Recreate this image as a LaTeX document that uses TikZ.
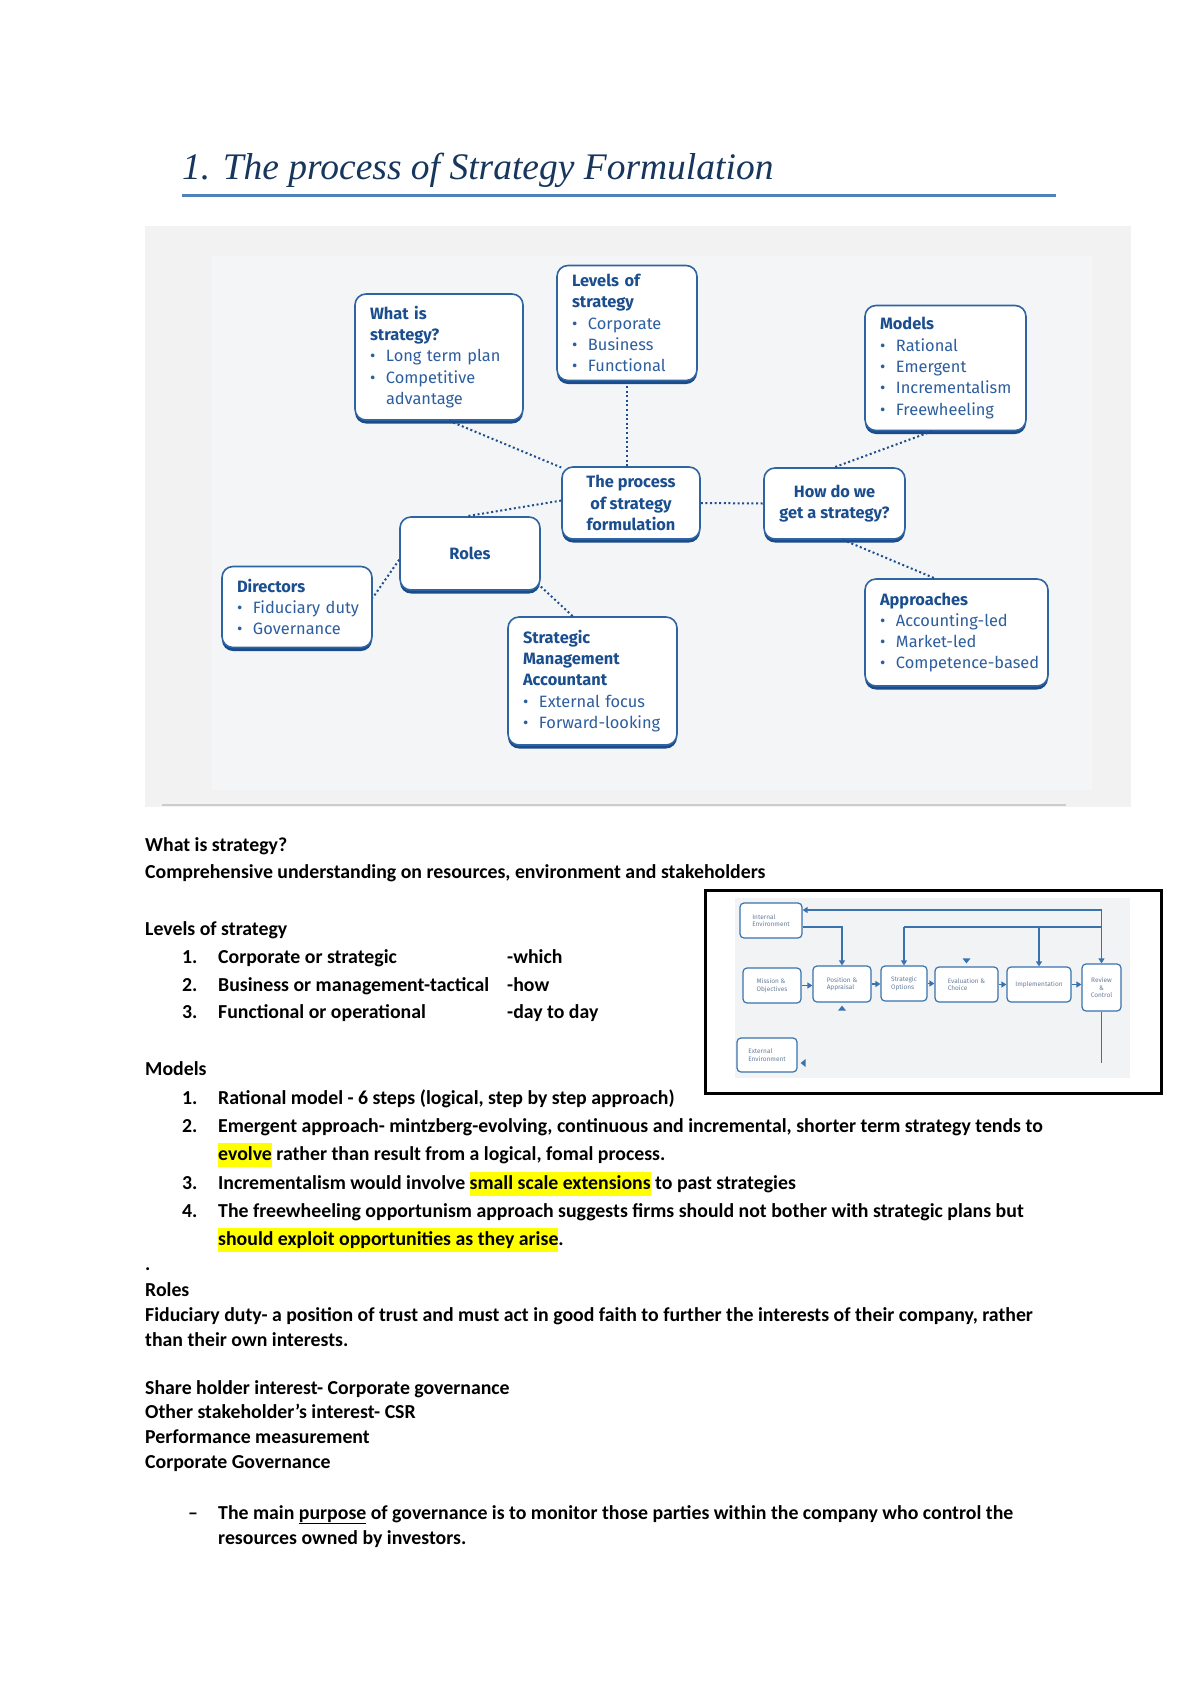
\documentclass[tikz,border=0pt]{standalone}
\usepackage{fontspec}
\setmainfont{Carlito}
\newfontfamily\diagfont{Fira Sans}
\newfontfamily\titlefont{Liberation Serif}
\usetikzlibrary{shadows,calc,arrows.meta}
\definecolor{titlecol}{HTML}{17365D}
\definecolor{rulecol}{HTML}{4F81BD}
\definecolor{panelout}{HTML}{F2F2F2}
\definecolor{panelin}{HTML}{F4F5F7}
\definecolor{boxline}{HTML}{2F64A3}
\definecolor{boxshadow}{HTML}{1A4C8B}
\definecolor{headcol}{HTML}{1B4E8E}
\definecolor{itemcol}{HTML}{2D5E9E}
\definecolor{dotcol}{HTML}{1F4E8C}
\definecolor{insbg}{HTML}{F2F3F5}
\definecolor{insline}{HTML}{3A72AE}
\definecolor{instext}{HTML}{6A7F9C}
\definecolor{hl}{HTML}{FFFF00}
\setlength{\fboxsep}{0pt}
\newcommand{\hd}[1]{\mbox{\bfseries\color{headcol}#1}}
\newcommand{\itm}[1]{\mbox{\makebox[16pt][l]{\textbullet}#1}}
\newcommand{\hang}[1]{\hspace*{16pt}\mbox{#1}}
\newcommand{\hlt}[1]{\colorbox{hl}{\strut #1}}
\begin{document}
\begin{tikzpicture}[x=1pt,y=-1pt,
  mbox/.style={draw=boxline, line width=1.6pt, fill=white, rounded corners=11pt,
    general shadow={fill=boxshadow, shadow yshift=-3.5pt},
    inner xsep=15pt, inner ysep=0pt, align=left, text=itemcol,
    font=\diagfont\fontsize{16.4}{21.3}\selectfont},
  cbox/.style={mbox, align=center, text=headcol,
    font=\diagfont\bfseries\fontsize{16.4}{21.3}\selectfont},
  dotln/.style={draw=dotcol, line width=2pt, dash pattern=on 2pt off 2.6pt},
  ibox/.style={draw=insline, line width=1.2pt, fill=white, rounded corners=4pt,
    inner sep=2pt, align=left, text=instext, font=\diagfont\fontsize{6.5}{7.5}\selectfont},
  iarr/.style={draw=insline, line width=1.3pt, -{Triangle[length=5pt,width=6pt]}},
  iln/.style={draw=insline, line width=1.3pt},
  body/.style={anchor=base west, inner sep=0pt, font=\bfseries\fontsize{19.8}{24}\selectfont, text=black}
]
\useasboundingbox (0,0) rectangle (1200,1698);
\fill[white] (0,0) rectangle (1200,1698);

% title
\node[anchor=base west, inner sep=0pt, text=titlecol,
  font=\titlefont\itshape\fontsize{37.5}{44}\selectfont] (title) at (182,179) {1. The process of Strategy Formulation};
\draw[rulecol, line width=3pt] (182,195) -- (1056,195);

% panel
\fill[panelout] (145,226) rectangle (1131,807);
\fill[panelin] (212,256) rectangle (1092,790);
\draw[gray!40, line width=2.5pt] (162,805) -- (1066,805);

% boxes
\node[mbox, text width=138pt, minimum height=126pt] (what) at (439,357)
  {\hd{What is}\\\hd{strategy?}\\\itm{Long term plan}\\\itm{Competitive}\\\hang{advantage}};
\node[mbox, text width=110pt, minimum height=115pt] (levels) at (627,323)
  {\hd{Levels of}\\\hd{strategy}\\\itm{Corporate}\\\itm{Business}\\\itm{Functional}};
\node[mbox, text width=131pt, minimum height=125pt] (models) at (945.5,368)
  {\hd{Models}\\\itm{Rational}\\\itm{Emergent}\\\itm{Incrementalism}\\\itm{Freewheeling}};
\node[cbox, minimum width=138pt, minimum height=72pt] (process) at (631,503)
  {The process\\of strategy\\formulation};
\node[cbox, minimum width=140pt, minimum height=73pt] (roles) at (470,553.5) {Roles};
\node[mbox, text width=120pt, minimum height=81pt] (directors) at (297,607)
  {\hd{Directors}\\\itm{Fiduciary duty}\\\itm{Governance}};
\node[mbox, text width=139pt, minimum height=128pt] (sma) at (592.5,681)
  {\hd{Strategic}\\\hd{Management}\\\hd{Accountant}\\\itm{External focus}\\\itm{Forward-looking}};
\node[cbox, minimum width=141pt, minimum height=71pt] (how) at (834.5,503.5)
  {How do we\\get a strategy?};
\node[mbox, text width=153pt, minimum height=107pt] (approaches) at (956.5,632.5)
  {\hd{Approaches}\\\itm{Accounting-led}\\\itm{Market-led}\\\itm{Competence-based}};

% connectors
\draw[dotln] (what.-81) -- (process.153);
\draw[dotln] (levels.south) -- (levels.south |- process.north);
\draw[dotln] (process.east) -- (how.west);
\draw[dotln] (models.-102) -- (how.north);
\draw[dotln] (how.-77) -- (approaches.112);
\draw[dotln] (process.178) -- (roles.95);
\draw[dotln] (roles.185) -- (directors.7);
\draw[dotln] (roles.-25) -- (sma.107);

% body text
\node[body] (b1) at (145,851) {What is strategy?};
\node[body] (b2) at (145,878) {Comprehensive understanding on resources, environment and stakeholders};
\node[body] (b3) at (145,935) {Levels of strategy};
\node[body] (n1) at (182,963) {1.};
\node[body] (l1) at (218,963) {Corporate or strategic};
\node[body] (d1) at (507,963) {-which};
\node[body] (n2) at (182,991) {2.};
\node[body] (l2) at (218,991) {Business or management-tactical};
\node[body] (d2) at (507,991) {-how};
\node[body] (n3) at (182,1018) {3.};
\node[body] (l3) at (218,1018) {Functional or operational};
\node[body] (d3) at (507,1018) {-day to day};
\node[body] (b4) at (145,1075) {Models};
\node[body] (m1n) at (182,1104) {1.};
\node[body] (m1) at (218,1104) {Rational model - 6 steps (logical, step by step approach)};
\node[body] (m2n) at (182,1132) {2.};
\node[body] (m2) at (218,1132) {Emergent approach- mintzberg-evolving, continuous and incremental, shorter term strategy tends to};
\node[body] (m2b) at (218,1160) {\hlt{evolve} rather than result from a logical, fomal process.};
\node[body] (m3n) at (182,1189) {3.};
\node[body] (m3) at (218,1189) {Incrementalism would involve \hlt{small scale extensions} to past strategies};
\node[body] (m4n) at (182,1217) {4.};
\node[body] (m4) at (218,1217) {The freewheeling opportunism approach suggests firms should not bother with strategic plans but};
\node[body] (m4b) at (218,1245) {\hlt{should exploit opportunities as they arise}.};
\node[body] (dot) at (145,1270) {.};
\node[body] (r0) at (145,1296) {Roles};
\node[body] (r1) at (145,1321) {Fiduciary duty- a position of trust and must act in good faith to further the interests of their company, rather};
\node[body] (r2) at (145,1346) {than their own interests.};
\node[body] (s1) at (145,1394) {Share holder interest- Corporate governance};
\node[body] (s2) at (145,1418) {Other stakeholder’s interest- CSR};
\node[body] (s3) at (145,1443) {Performance measurement};
\node[body] (s4) at (145,1468) {Corporate Governance};
\node[body] (g0) at (188,1519) {–};
\node[body] (g1) at (218,1519) {The main \underline{purpose} of governance is to monitor those parties within the company who control the};
\node[body] (g2) at (218,1544) {resources owned by investors.};

% inset diagram
\draw[black, line width=3pt, fill=white] (705,890) rectangle (1161,1093);
\fill[insbg] (735,898) rectangle (1130,1078);
\node[ibox, minimum width=62pt, minimum height=35pt] (ie) at (771,920.5) {Internal\\Environment};
\node[ibox, minimum width=58pt, minimum height=35pt] (mo) at (772,985.5) {Mission \&\\Objectives};
\node[ibox, minimum width=58pt, minimum height=36pt] (pa) at (842,984) {Position \&\\Appraisal};
\node[ibox, minimum width=46pt, minimum height=35pt] (so) at (904,983.5) {Strategic\\Options};
\node[ibox, minimum width=63pt, minimum height=35pt] (ec) at (966.5,984.5) {Evaluation \&\\Choice};
\node[ibox, minimum width=64pt, minimum height=35pt] (im) at (1039,984.5) {Implementation};
\node[ibox, minimum width=39pt, minimum height=47pt, align=center] (rc) at (1101.5,987.5) {Review\\\&\\Control};
\node[ibox, minimum width=60pt, minimum height=34pt] (ee) at (767,1055) {External\\Environment};
\coordinate (t1) at (1101.5,910);
\coordinate (t2) at (1101.5,927);
\coordinate (bt) at (1101.5,1063);
\draw[iarr] (t1) -- (t1 -| ie.east);
\draw[iarr] (t1) -- (rc.north);
\draw[iln] (t2) -- (so.north |- t2);
\draw[iarr] (so.north |- t2) -- (so.north);
\draw[iarr] (im.north |- t2) -- (im.north);
\draw[iarr] (ie.east |- t2) -| (pa.north);
\draw[iarr] (mo.east) -- (mo.east -| pa.west);
\draw[iarr] (pa.east) -- (pa.east -| so.west);
\draw[iarr] (so.east) -- (so.east -| ec.west);
\draw[iarr] (ec.east) -- (ec.east -| im.west);
\draw[iarr] (im.east) -- (im.east -| rc.west);
\draw[iln] (rc.south) -- (bt);
\fill[insline] ($(pa.south)+(-4,8)$) -- ($(pa.south)+(4,8)$) -- ($(pa.south)+(0,3)$) -- cycle;
\fill[insline] ($(ec.north)+(-4,-8)$) -- ($(ec.north)+(4,-8)$) -- ($(ec.north)+(0,-3)$) -- cycle;
\fill[insline] ($(ee.east)+(8,4)$) -- ($(ee.east)+(8,12)$) -- ($(ee.east)+(3,8)$) -- cycle;
\end{tikzpicture}
\end{document}
